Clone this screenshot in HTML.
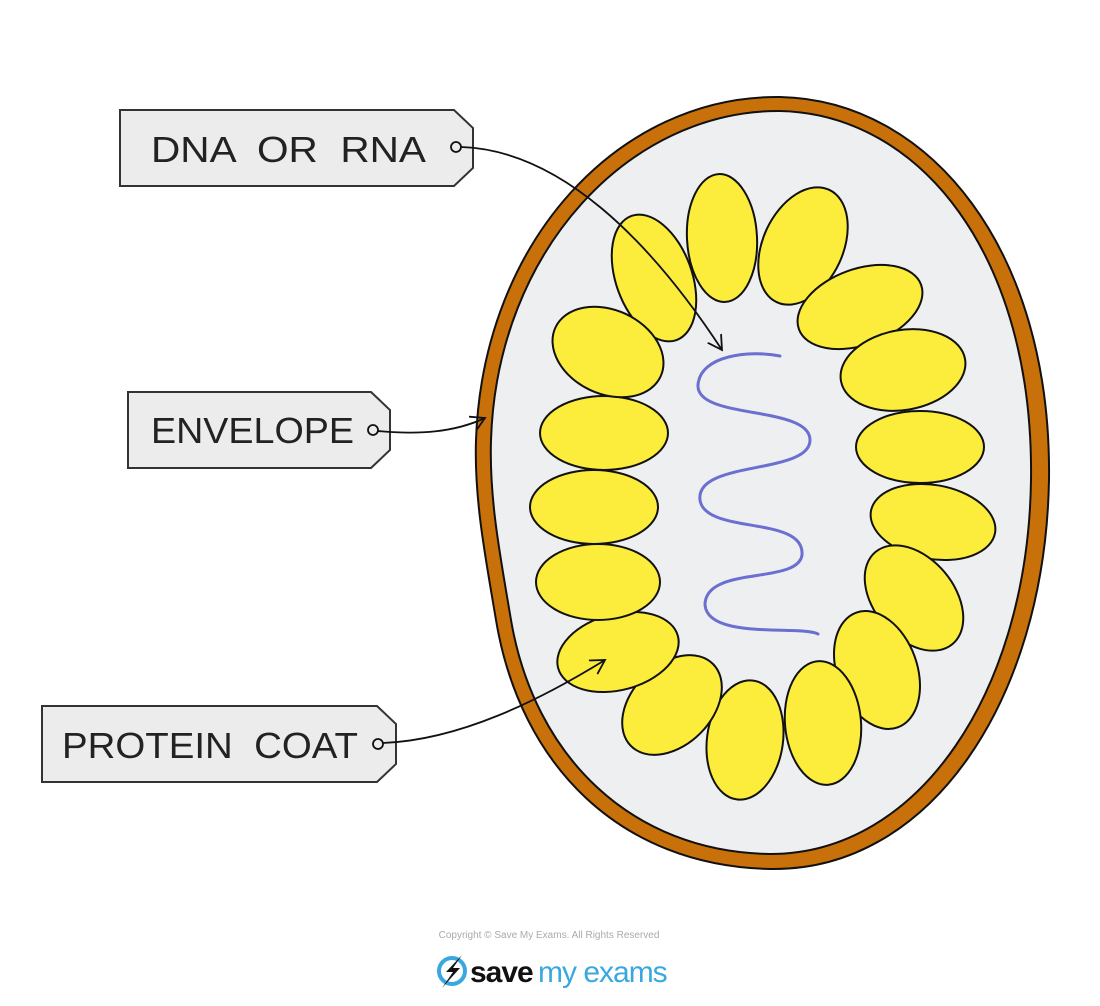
<!DOCTYPE html>
<html><head><meta charset="utf-8"><style>
html,body{margin:0;padding:0;background:#fff;}
svg{display:block;}
.lbl{font-family:"Liberation Sans",sans-serif;font-size:36px;fill:#222;white-space:pre;}
</style></head><body>
<svg width="1100" height="1006" viewBox="0 0 1100 1006" xmlns="http://www.w3.org/2000/svg">
<defs>
<marker id="ah" markerWidth="20" markerHeight="20" refX="14" refY="10" orient="auto" markerUnits="userSpaceOnUse">
<path d="M0,2 L14,10 L0,18" fill="none" stroke="#111" stroke-width="1.8"/>
</marker>
</defs>
<path d="M780,97 C930,100 1052,250 1049,480 C1045,700 930,872 770,869 C620,866 520,765 496,620 C486,560 474,500 476,440 C483,240 620,95 780,97 Z" fill="#c8700a" stroke="#111" stroke-width="2"/>
<path d="M780,111 C920,114 1034,255 1031,480 C1028,690 920,854 770,854 C630,852 534,755 511,620 C501,560 489,500 491,440 C497,250 630,110 780,111 Z" fill="#eeeff0" stroke="#111" stroke-width="2"/>
<g fill="#fcec3c" stroke="#111" stroke-width="2">
<ellipse cx="654" cy="278" rx="38" ry="66" transform="rotate(-20 654 278)"/>
<ellipse cx="722" cy="238" rx="35" ry="64" transform="rotate(-3 722 238)"/>
<ellipse cx="803" cy="246" rx="40" ry="62" transform="rotate(25 803 246)"/>
<ellipse cx="860" cy="307" rx="65" ry="38" transform="rotate(-20 860 307)"/>
<ellipse cx="903" cy="370" rx="63" ry="40" transform="rotate(-10 903 370)"/>
<ellipse cx="920" cy="447" rx="64" ry="36"/>
<ellipse cx="933" cy="522" rx="63" ry="37" transform="rotate(10 933 522)"/>
<ellipse cx="914" cy="598" rx="40" ry="60" transform="rotate(-40 914 598)"/>
<ellipse cx="877" cy="670" rx="40" ry="61" transform="rotate(-20 877 670)"/>
<ellipse cx="823" cy="723" rx="38" ry="62" transform="rotate(-5 823 723)"/>
<ellipse cx="745" cy="740" rx="38" ry="60" transform="rotate(8 745 740)"/>
<ellipse cx="672" cy="705" rx="40" ry="58" transform="rotate(45 672 705)"/>
<ellipse cx="618" cy="652" rx="62" ry="38" transform="rotate(-15 618 652)"/>
<ellipse cx="598" cy="582" rx="62" ry="38"/>
<ellipse cx="594" cy="507" rx="64" ry="37"/>
<ellipse cx="604" cy="433" rx="64" ry="37"/>
<ellipse cx="608" cy="352" rx="58" ry="42" transform="rotate(25 608 352)"/>
</g>
<path d="M780,356 C750,350 700,355 698,385 C696,420 810,405 810,440 C810,475 695,460 700,500 C705,535 805,515 802,555 C798,585 705,565 705,605 C708,640 800,625 818,634" fill="none" stroke="#6b6fd0" stroke-width="3" stroke-linecap="round"/>
<g fill="#ececec" stroke="#333" stroke-width="2">
<path d="M120,110 L454,110 L473,128 L473,168 L454,186 L120,186 Z"/>
<path d="M128,392 L371,392 L390,410 L390,450 L371,468 L128,468 Z"/>
<path d="M42,706 L377,706 L396,724 L396,764 L377,782 L42,782 Z"/>
</g>
<text class="lbl" x="151" y="162" textLength="275" lengthAdjust="spacingAndGlyphs">DNA  OR  RNA</text>
<text class="lbl" x="151" y="443" textLength="203" lengthAdjust="spacingAndGlyphs">ENVELOPE</text>
<text class="lbl" x="62" y="758" textLength="296" lengthAdjust="spacingAndGlyphs">PROTEIN  COAT</text>
<g fill="none" stroke="#111" stroke-width="1.8">
<circle cx="456" cy="147" r="5"/>
<circle cx="373" cy="430" r="5"/>
<circle cx="378" cy="744" r="5"/>
<path d="M461,147 C560,150 650,240 722,350" marker-end="url(#ah)"/>
<path d="M378,431 C420,435 455,432 485,418" marker-end="url(#ah)"/>
<path d="M383,743 C460,740 540,700 605,660" marker-end="url(#ah)"/>
</g>
<text x="549" y="938" text-anchor="middle" font-family="Liberation Sans,sans-serif" font-size="10" fill="#aaa">Copyright © Save My Exams. All Rights Reserved</text>
<circle cx="452" cy="971" r="13" fill="none" stroke="#3aa8e0" stroke-width="4"/>
<path d="M462,955 L446,972 L453,972 L442,988 L460,968 L453,968 Z" fill="#111"/>
<text x="470" y="982" font-family="Liberation Sans,sans-serif" font-size="30" font-weight="bold" fill="#111" letter-spacing="-1">save</text>
<text x="538" y="982" font-family="Liberation Sans,sans-serif" font-size="30" fill="#3aa8e0" letter-spacing="-1">my exams</text>
</svg>
</body></html>
